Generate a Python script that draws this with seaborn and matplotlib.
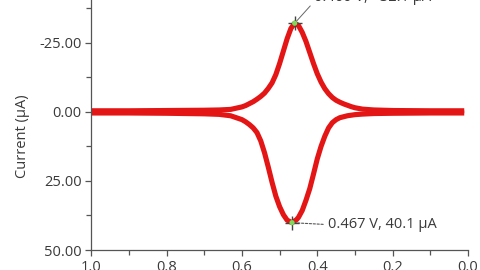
import numpy as np
import pandas as pd
import matplotlib
matplotlib.use("Agg")
import matplotlib.pyplot as plt
import seaborn as sns

# ---- data ----
v_up = [1.00, 0.90, 0.80, 0.70, 0.66, 0.63, 0.60, 0.59, 0.58, 0.57, 0.56, 0.55, 0.54, 0.53, 0.52,
        0.51, 0.50, 0.49, 0.48, 0.47, 0.46, 0.45, 0.44, 0.43, 0.42, 0.41, 0.40, 0.39, 0.38, 0.37,
        0.36, 0.35, 0.34, 0.33, 0.32, 0.31, 0.30, 0.28, 0.25, 0.20, 0.10, 0.01]
i_up = [-0.4, -0.4, -0.5, -0.6, -0.7, -0.9, -1.8, -2.3, -3.0, -3.7, -4.6, -5.6, -6.8, -8.5, -10.5,
        -13.5, -17.5, -22.0, -26.5, -30.2, -32.1, -31.3, -28.8, -25.5, -21.5, -17.5, -13.8, -10.8, -8.4, -6.6,
        -5.2, -4.2, -3.5, -2.9, -2.4, -1.9, -1.5, -1.0, -0.7, -0.5, -0.4, -0.4]

v_lo = [1.00, 0.90, 0.80, 0.70, 0.66, 0.63, 0.60, 0.59, 0.58, 0.57, 0.56, 0.55, 0.54, 0.53, 0.52,
        0.51, 0.50, 0.49, 0.48, 0.467, 0.455, 0.45, 0.44, 0.43, 0.42, 0.41, 0.40, 0.39, 0.38, 0.37,
        0.36, 0.35, 0.34, 0.32, 0.30, 0.28, 0.25, 0.20, 0.10, 0.01]
i_lo = [0.4, 0.4, 0.5, 0.7, 0.9, 1.4, 2.8, 3.6, 4.6, 5.8, 7.5, 10.5, 14.8, 20.0, 25.5,
        30.5, 34.3, 37.2, 39.2, 40.1, 39.0, 38.2, 35.7, 32.0, 27.8, 22.5, 17.0, 12.5, 8.8, 5.8,
        3.9, 2.8, 2.1, 1.4, 1.0, 0.8, 0.6, 0.5, 0.4, 0.4]

peak_v = [0.460, 0.467]
peak_i = [-32.1, 40.1]
peak_labels = ["0.460 V, \u221232.1 \u00b5A", "0.467 V, 40.1 \u00b5A"]

x_ticks = [1.0, 0.8, 0.6, 0.4, 0.2, 0.0]
x_tick_labels = ["1.0", "0.8", "0.6", "0.4", "0.2", "0.0"]
y_ticks = [-25, 0, 25, 50]
y_tick_labels = ["-25.00", "0.00", "25.00", "50.00"]
y_label = "Current (\u00b5A)"

# ---- styling ----
sns.set_style("ticks")
plt.rcParams["font.family"] = ["Open Sans", "DejaVu Sans"]
TXT = "#3a3a3a"
SPINE = "#555555"

fig = plt.figure(figsize=(4.8, 2.7), dpi=100)
ax = fig.add_axes([0.19, 0.074, 0.785, 0.926])

df_up = pd.DataFrame({"V": v_up, "I": i_up})
df_lo = pd.DataFrame({"V": v_lo, "I": i_lo})
for d in (df_up, df_lo):
    sns.lineplot(data=d, x="V", y="I", sort=False, estimator=None, ax=ax,
                 color="#e31515", lw=3.7, solid_capstyle="butt", solid_joinstyle="round")

ax.set_xlim(1.0, 0.0)
ax.set_ylim(50, -40.5)

ax.set_xticks(x_ticks)
ax.set_xticklabels(x_tick_labels)
ax.set_yticks(y_ticks)
ax.set_yticklabels(y_tick_labels)
ax.set_xticks([0.9, 0.7, 0.5, 0.3, 0.1], minor=True)
ax.set_yticks([-37.5, -12.5, 12.5, 37.5], minor=True)
ax.tick_params(axis="both", which="major", length=4, width=0.9, color=SPINE,
               labelsize=10.5, labelcolor=TXT, pad=3, direction="out")
ax.tick_params(axis="both", which="minor", length=3.5, width=0.9, color=SPINE, direction="out")

sns.despine(ax=ax)
for s in ("left", "bottom"):
    ax.spines[s].set_color(SPINE)
    ax.spines[s].set_linewidth(0.9)

ax.set_xlabel("")
ax.set_ylabel(y_label, fontsize=10.5, color=TXT)
ax.yaxis.set_label_coords(-0.162, 0.456)

# peak markers
sns.scatterplot(x=peak_v, y=peak_i, ax=ax, marker="+", s=110, color="#444444",
                linewidth=1.0, zorder=5)
sns.scatterplot(x=peak_v, y=peak_i, ax=ax, marker="o", s=14, color="#7ddc5a",
                edgecolor="none", zorder=6)

# annotations
ax.annotate(peak_labels[0], xy=(peak_v[0], peak_i[0]), xytext=(0.41, -41.3),
            fontsize=10.5, color=TXT, va="center", ha="left", annotation_clip=False,
            arrowprops=dict(arrowstyle="-", color="#666666", lw=0.7, shrinkA=0, shrinkB=2,
                            relpos=(0, 0.2)))
ax.annotate(peak_labels[1], xy=(peak_v[1], peak_i[1]), xytext=(0.372, 40.8),
            fontsize=10.5, color=TXT, va="center", ha="left",
            arrowprops=dict(arrowstyle="-", color="#555555", lw=0.8, ls=(0, (2, 1.5)),
                            shrinkA=1, shrinkB=2, relpos=(0, 0.5)))

fig.savefig("out.png", dpi=100)
